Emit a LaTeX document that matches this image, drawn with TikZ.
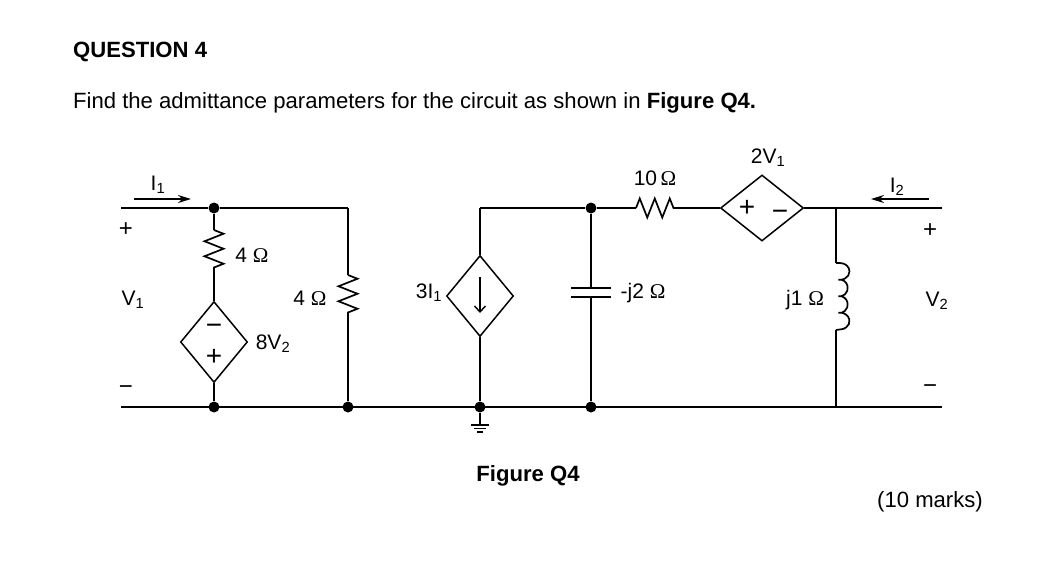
\documentclass[tikz,border=0pt]{standalone}
\usepackage{fontspec}
\setmainfont{Liberation Sans}
\newfontfamily\omegafont{Liberation Serif}
\usetikzlibrary{arrows.meta,positioning,shapes.geometric,decorations.pathmorphing}
\newcommand{\ohm}{{\omegafont\char"03A9}}
\begin{document}
\begin{tikzpicture}[
    x=1pt, y=-1pt,
    wire/.style={line width=1.7pt},
    dot/.style={circle, fill=black, inner sep=0pt, minimum size=11pt},
    source/.style={draw, diamond, inner sep=0pt, line width=1.5pt, minimum width=67pt, minimum height=81pt},
    res/.style={wire, decorate, decoration={zigzag, segment length=15pt, amplitude=9.5pt}},
    current/.style={-{Stealth[length=13pt, width=8pt]}, line width=1.4pt},
    lbl/.style={font=\fontsize{21}{24}\selectfont, inner sep=0pt},
    head/.style={font=\fontsize{22.1}{26}\selectfont, inner sep=0pt, anchor=west},
    sign/.style={font=\fontsize{28}{30}\selectfont, inner sep=0pt},
    psign/.style={font=\fontsize{24}{26}\selectfont, inner sep=0pt},
]
\useasboundingbox (0,0) rectangle (1051,579);

% ── Heading text ──
\node[head, font=\fontsize{22.1}{26}\selectfont\bfseries] (quest) at (73,51.5) {QUESTION 4};
\node[head] (find) at (73,103) {Find the admittance parameters for the circuit as shown in \textbf{Figure Q4.}};

% ── Junctions ──
\node[dot] (ta) at (214,208) {};
\node[dot] (tc) at (591,208) {};
\node[dot] (ba) at (214,407) {};
\node[dot] (bb) at (348,407) {};
\node[dot] (bc) at (480,407) {};
\node[dot] (bd) at (591,407) {};
\coordinate (pl1) at (121,208);
\coordinate (pr1) at (942,208);
\coordinate (pl2) at (121,407);
\coordinate (pr2) at (942,407);
\coordinate (tb) at (348,208);
\coordinate (ts) at (480,208);
\coordinate (tl) at (836,208);
\coordinate (bl) at (836,407);

% ── Controlled sources ──
\node[source] (vs1) at (214,342) {};
\node[source] (cs1) at (480,296) {};
\node[source, minimum width=83pt, minimum height=66pt] (vs2) at (762,208) {};

% ── Wires ──
\draw[wire] (pl1) -- (ta) -- (tb);
\draw[wire] (ts) -- (tc);
\draw[wire] (pl2) -- (pr2);
\draw[wire] (vs2.east) -- (pr1);
\draw[wire] (ts) -- (cs1.north);
\draw[wire] (cs1.south) -- (bc);
\draw[wire] (vs1.south) -- (ba);

% ── Resistors ──
\draw[wire] (ta) -- ++(0,22) coordinate (r1a);
\draw[wire] (vs1.north) -- ++(0,-27) coordinate (r1b);
\draw[res] (r1a) -- (r1b);
\draw[wire] (tb) -- ++(0,67) coordinate (r2a);
\draw[wire] (bb) -- ++(0,-89) coordinate (r2b);
\draw[res] (r2a) -- (r2b);
\draw[wire] (tc) -- ++(45,0) coordinate (r3a);
\draw[wire] (vs2.west) -- ++(-40,0) coordinate (r3b);
\draw[res] (r3a) -- (r3b);

% ── Capacitor ──
\coordinate (c1) at (591,288);
\coordinate (c2) at (591,297);
\draw[wire] (tc) -- (c1);
\draw[wire] (c2) -- (bd);
\draw[wire] ([xshift=-20pt]c1) -- ([xshift=20pt]c1);
\draw[wire] ([xshift=-20pt]c2) -- ([xshift=20pt]c2);

% ── Inductor ──
\draw[wire] (tl) -- ++(0,55) coordinate (l1);
\draw[wire] (bl) -- ++(0,-77) coordinate (l2);
\draw[wire] (l1) -- ++(4,0) arc[start angle=90, end angle=-100, x radius=9.5pt, y radius=8.4pt]
    arc[start angle=100, end angle=-100, x radius=8pt, y radius=8.4pt]
    arc[start angle=100, end angle=-100, x radius=8pt, y radius=8.4pt]
    arc[start angle=100, end angle=-90, x radius=9.5pt, y radius=8.4pt] -- (l2);

% ── Ground ──
\draw[wire] (bc) -- ++(0,18) coordinate (gnd);
\draw[wire] ([xshift=-9pt]gnd) -- ([xshift=9pt]gnd);
\draw[wire] ([shift={(-6pt,-3.5pt)}]gnd) -- ([shift={(6pt,-3.5pt)}]gnd);
\draw[wire] ([shift={(-3pt,-7pt)}]gnd) -- ([shift={(3pt,-7pt)}]gnd);

% ── Source marks ──
\node[sign] (m1) at (214,329) {\textminus};
\node[sign] (p1) at (214,357) {+};
\node[sign] (p2) at (747,208) {+};
\node[sign] (m2) at (780,215) {\textminus};
\draw[-{Straight Barb[length=6pt, width=11pt]}, line width=1.4pt] ([yshift=19pt]cs1.center) -- ([yshift=-17pt]cs1.center);

% ── Port currents ──
\draw[current] (134,199) -- (191,199);
\draw[current] (929,199) -- (871,199);
\node[lbl] (i1) at (158,185) {I\textsubscript{1}};
\node[lbl] (i2) at (897,187) {I\textsubscript{2}};

% ── Port voltages ──
\node[psign] (p3) at (126,230) {+};
\node[lbl] (v1) at (133,300) {V\textsubscript{1}};
\node[psign] (m3) at (126,390) {\textminus};
\node[psign] (p4) at (930,231) {+};
\node[lbl] (v2) at (937,301) {V\textsubscript{2}};
\node[psign] (m4) at (930,389) {\textminus};

% ── Element labels ──
\node[lbl] (r1l) at (252,255) {4 \ohm};
\node[lbl] (r2l) at (310,298) {4 \ohm};
\node[lbl] (s1l) at (273,344) {8V\textsubscript{2}};
\node[lbl] (s2l) at (429,293) {3I\textsubscript{1}};
\node[lbl] (c1l) at (643,293) {-j2 \ohm};
\node[lbl] (r3l) at (655,178) {10\,\ohm};
\node[lbl] (s3l) at (768,158) {2V\textsubscript{1}};
\node[lbl] (l1l) at (805,300) {j1 \ohm};

% ── Captions ──
\node[lbl, font=\fontsize{22.1}{26}\selectfont\bfseries] (fig) at (528,476) {Figure Q4};
\node[lbl, font=\fontsize{22.1}{26}\selectfont] (marks) at (930,502) {(10 marks)};
\end{tikzpicture}
\end{document}
